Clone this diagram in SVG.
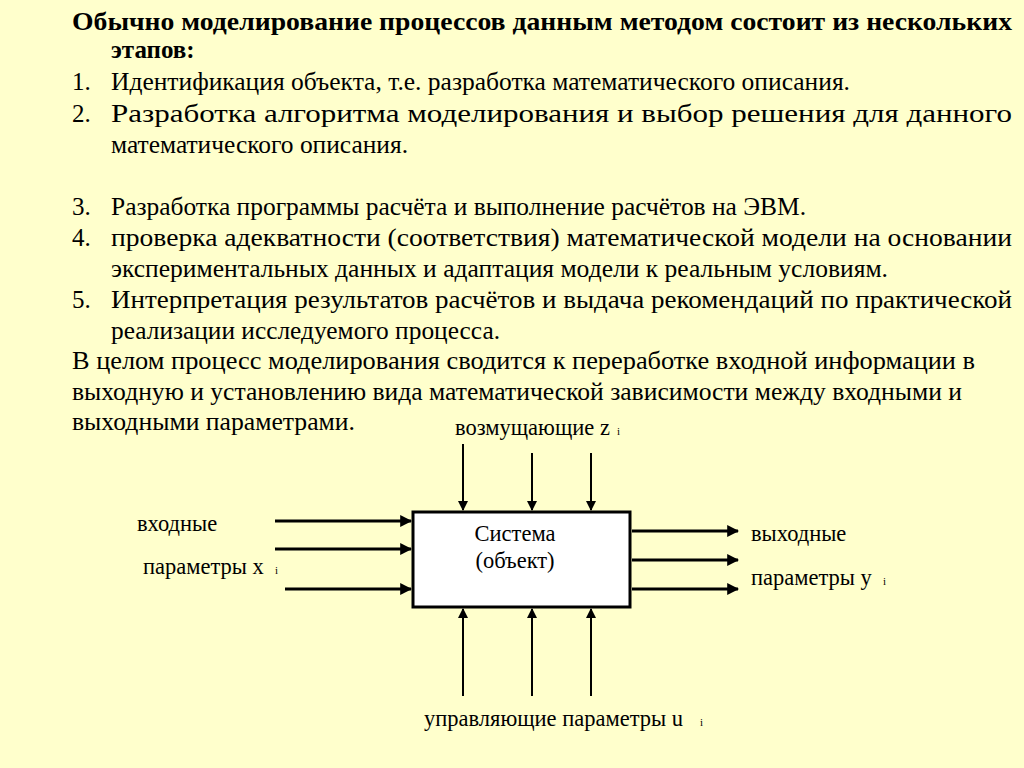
<svg xmlns="http://www.w3.org/2000/svg" width="1024" height="768" viewBox="0 0 1024 768">
<style>
text{font-family:"Liberation Serif","Times New Roman",serif;fill:#000}
.b{font-size:25px}
.d{font-size:22.5px}
.s{font-size:11px}
.c{stroke:#000;stroke-width:3;fill:none}
.t{stroke:#000;stroke-width:2;fill:none}
</style>
<defs>
<marker id="a" viewBox="0 0 10 10" refX="9" refY="5" markerWidth="4" markerHeight="4" orient="auto" markerUnits="strokeWidth"><path d="M0,0L10,5L0,10z" fill="#000"/></marker>
<marker id="a2" viewBox="0 0 10 10" refX="9" refY="5" markerWidth="5" markerHeight="5" orient="auto" markerUnits="strokeWidth"><path d="M0,0L10,5L0,10z" fill="#000"/></marker>
</defs>
<rect width="1024" height="768" fill="#FFFFCC"/>
<g id="text">
<text class="b" x="72" y="30" font-weight="bold" textLength="940" lengthAdjust="spacingAndGlyphs">Обычно моделирование процессов данным методом состоит из нескольких</text>
<text class="b" x="111" y="58" font-weight="bold">этапов:</text>
<text class="b" x="72" y="90">1.</text><text class="b" x="111" y="90" textLength="739" lengthAdjust="spacingAndGlyphs">Идентификация объекта, т.е. разработка математического описания.</text>
<text class="b" x="72" y="122">2.</text><text class="b" x="111" y="122" textLength="901" lengthAdjust="spacingAndGlyphs">Разработка алгоритма моделирования и выбор решения для данного</text>
<text class="b" x="111" y="153" textLength="297" lengthAdjust="spacingAndGlyphs">математического описания.</text>
<text class="b" x="72" y="215">3.</text><text class="b" x="111" y="215" textLength="695" lengthAdjust="spacingAndGlyphs">Разработка программы расчёта и выполнение расчётов на ЭВМ.</text>
<text class="b" x="72" y="246">4.</text><text class="b" x="111" y="246" textLength="901" lengthAdjust="spacingAndGlyphs">проверка адекватности (соответствия) математической модели на основании</text>
<text class="b" x="111" y="277" textLength="777" lengthAdjust="spacingAndGlyphs">экспериментальных данных и адаптация модели к реальным условиям.</text>
<text class="b" x="72" y="308">5.</text><text class="b" x="111" y="308" textLength="901" lengthAdjust="spacingAndGlyphs">Интерпретация результатов расчётов и выдача рекомендаций по практической</text>
<text class="b" x="111" y="339" textLength="389" lengthAdjust="spacingAndGlyphs">реализации исследуемого процесса.</text>
<text class="b" x="72" y="369" textLength="903" lengthAdjust="spacingAndGlyphs">В целом процесс моделирования сводится к переработке входной информации в</text>
<text class="b" x="72" y="400" textLength="890" lengthAdjust="spacingAndGlyphs">выходную и установлению вида математической зависимости между входными и</text>
<text class="b" x="72" y="430" textLength="283" lengthAdjust="spacingAndGlyphs">выходными параметрами.</text>
</g>
<g id="node-system">
<rect x="413" y="512" width="217" height="95" fill="#fff" stroke="#000" stroke-width="3"/>
<text class="d" x="515" y="541" text-anchor="middle">Система</text>
<text class="d" x="515" y="568" text-anchor="middle">(объект)</text>
</g>
<g id="labels">
<text class="d" x="455" y="435">возмущающие z</text><text class="s" x="617" y="435">i</text>
<text class="d" x="137" y="531">входные</text>
<text class="d" x="143" y="574">параметры x</text><text class="s" x="275" y="574">i</text>
<text class="d" x="751" y="541">выходные</text>
<text class="d" x="751" y="585">параметры y</text><text class="s" x="883" y="585">i</text>
<text class="d" x="424" y="726">управляющие параметры u</text><text class="s" x="700" y="726">i</text>
</g>
<g id="connectors">
<line class="t" x1="463" y1="444" x2="463" y2="510" marker-end="url(#a2)"/>
<line class="t" x1="532" y1="453" x2="532" y2="510" marker-end="url(#a2)"/>
<line class="t" x1="591" y1="453" x2="591" y2="510" marker-end="url(#a2)"/>
<line class="t" x1="463" y1="696" x2="463" y2="609" marker-end="url(#a2)"/>
<line class="t" x1="532" y1="696" x2="532" y2="609" marker-end="url(#a2)"/>
<line class="t" x1="591" y1="696" x2="591" y2="609" marker-end="url(#a2)"/>
<line class="c" x1="275" y1="521" x2="411" y2="521" marker-end="url(#a)"/>
<line class="c" x1="275" y1="549" x2="411" y2="549" marker-end="url(#a)"/>
<line class="c" x1="285" y1="589" x2="411" y2="589" marker-end="url(#a)"/>
<line class="c" x1="632" y1="531" x2="738" y2="531" marker-end="url(#a)"/>
<line class="c" x1="632" y1="560" x2="738" y2="560" marker-end="url(#a)"/>
<line class="c" x1="632" y1="589" x2="738" y2="589" marker-end="url(#a)"/>
</g>
</svg>
